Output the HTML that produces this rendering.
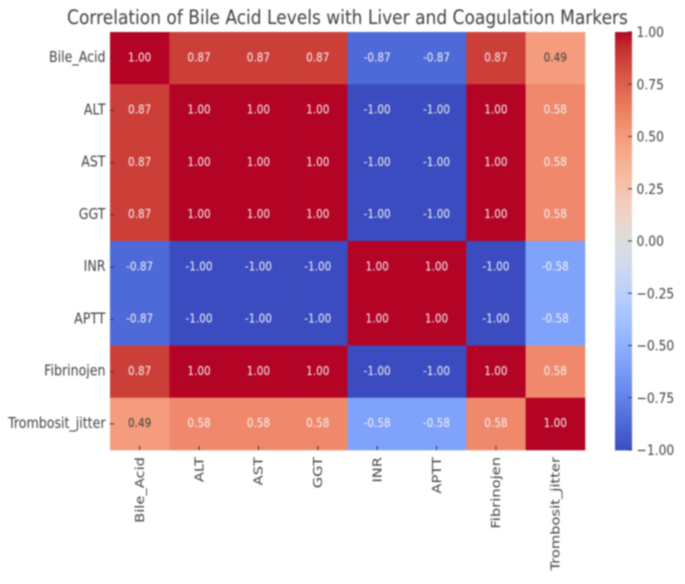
<!DOCTYPE html>
<html lang="en">
<head>
<meta charset="utf-8">
<title>Correlation of Bile Acid Levels with Liver and Coagulation Markers</title>
<style>
html,body{margin:0;padding:0;background:#fff;}
body{width:685px;height:584px;overflow:hidden;}
svg{display:block;filter:blur(0.7px);font-family:"DejaVu Sans","Liberation Sans",sans-serif;}
</style>
</head>
<body>
<svg id="chart" xmlns="http://www.w3.org/2000/svg" width="685" height="584" viewBox="0 0 685 584">
  <rect x="-5" y="-5" width="695" height="594" fill="#ffffff"/>
  <text transform="translate(347.5,24) scale(0.857,1)" text-anchor="middle" font-size="19.9" fill="#404040">Correlation of Bile Acid Levels with Liver and Coagulation Markers</text>
  <g id="cells"></g>
  <g id="annotations"></g>
  <g id="y-axis"></g>
  <g id="x-axis"></g>
  <g id="colorbar"></g>
</svg>
<script>
const variables = ["Bile_Acid", "ALT", "AST", "GGT", "INR", "APTT", "Fibrinojen", "Trombosit_jitter"];
const bileAcidRow = [1.00, 0.87, 0.87, 0.87, -0.87, -0.87, 0.87, 0.49];
const altRow = [0.87, 1.00, 1.00, 1.00, -1.00, -1.00, 1.00, 0.58];
const astRow = [0.87, 1.00, 1.00, 1.00, -1.00, -1.00, 1.00, 0.58];
const ggtRow = [0.87, 1.00, 1.00, 1.00, -1.00, -1.00, 1.00, 0.58];
const inrRow = [-0.87, -1.00, -1.00, -1.00, 1.00, 1.00, -1.00, -0.58];
const apttRow = [-0.87, -1.00, -1.00, -1.00, 1.00, 1.00, -1.00, -0.58];
const fibrinojenRow = [0.87, 1.00, 1.00, 1.00, -1.00, -1.00, 1.00, 0.58];
const trombositRow = [0.49, 0.58, 0.58, 0.58, -0.58, -0.58, 0.58, 1.00];
const matrix = [bileAcidRow, altRow, astRow, ggtRow, inrRow, apttRow, fibrinojenRow, trombositRow];
const colorbarTicks = [1.00, 0.75, 0.50, 0.25, 0.00, -0.25, -0.50, -0.75, -1.00];
const coolwarm = [
  [59,76,192],[68,90,204],[77,104,215],[87,117,225],[98,130,234],[108,142,241],[119,154,247],[130,165,251],
  [141,176,254],[152,185,255],[163,194,255],[174,201,253],[184,208,249],[194,213,244],[204,217,238],[213,219,230],
  [221,221,221],[229,216,209],[236,211,197],[241,204,185],[245,196,173],[247,187,160],[247,177,148],[247,166,135],
  [244,154,123],[241,141,111],[236,127,99],[229,112,88],[222,96,77],[213,80,66],[203,62,56],[192,40,47],[180,4,38]
];

const NS = "http://www.w3.org/2000/svg";
const plot = {left: 110, right: 585, top: 32, bottom: 450};
const bar = {left: 615, right: 632, top: 32, bottom: 450};
const xScaleText = 0.857;

const xBand = i => plot.left + i * (plot.right - plot.left) / variables.length;
const yBand = i => plot.top + i * (plot.bottom - plot.top) / variables.length;
const barY = v => bar.top + (1 - v) / 2 * (bar.bottom - bar.top);

function rgbFor(v) {
  const t = Math.max(0, Math.min(1, (v + 1) / 2)) * (coolwarm.length - 1);
  const i = Math.min(coolwarm.length - 2, Math.floor(t));
  const f = t - i;
  return coolwarm[i].map((c, k) => Math.round(c + (coolwarm[i + 1][k] - c) * f));
}
function colorFor(v) {
  return "rgb(" + rgbFor(v).join(",") + ")";
}
function annotationColor(v) {
  const lin = rgbFor(v).map(c => {
    const s = c / 255;
    return s <= 0.03928 ? s / 12.92 : Math.pow((s + 0.055) / 1.055, 2.4);
  });
  const lum = 0.2126 * lin[0] + 0.7152 * lin[1] + 0.0722 * lin[2];
  return lum > 0.408 ? "#3a3a3a" : "#f4f4f4";
}
function make(tag, attrs, parent, text) {
  const el = document.createElementNS(NS, tag);
  for (const key in attrs) el.setAttribute(key, attrs[key]);
  if (text !== undefined) el.textContent = text;
  parent.appendChild(el);
  return el;
}

const cellsG = document.getElementById("cells");
const annG = document.getElementById("annotations");
const yG = document.getElementById("y-axis");
const xG = document.getElementById("x-axis");
const barG = document.getElementById("colorbar");
const cellW = xBand(1) - xBand(0);
const cellH = yBand(1) - yBand(0);

matrix.forEach((row, r) => {
  row.forEach((v, c) => {
    const cell = make("rect", {x: xBand(c), y: yBand(r), width: cellW + 0.3, height: cellH + 0.3, fill: colorFor(v)}, cellsG);
    
    
    const label = make("text", {
      transform: "translate(" + (xBand(c) + cellW / 2) + "," + (yBand(r) + cellH / 2 + 3.3) + ") scale(" + xScaleText + ",1)",
      "text-anchor": "middle", "font-size": 12.2, fill: annotationColor(v)
    }, annG, v.toFixed(2));
    
    
  });
});

variables.forEach((name, i) => {
  const cy = yBand(i) + cellH / 2;
  const yTick = make("line", {x1: plot.left, x2: plot.left + 4, y1: cy, y2: cy, stroke: "#333", "stroke-width": 1}, yG);
  
  
  const yLabel = make("text", {
    transform: "translate(105.5," + (cy + 4) + ") scale(" + xScaleText + ",1)",
    "text-anchor": "end", "font-size": 14.7, fill: "#404040"
  }, yG, name);
  
  

  const cx = xBand(i) + cellW / 2;
  const xTick = make("line", {x1: cx, x2: cx, y1: plot.bottom - 4, y2: plot.bottom, stroke: "#333", "stroke-width": 1}, xG);
  
  
  const xLabel = make("text", {
    transform: "translate(" + (cx + 4.3) + ",457) scale(" + xScaleText + ",1) rotate(-90)",
    "text-anchor": "end", "font-size": 14.7, fill: "#404040"
  }, xG, name);
  
  
});

const barSteps = 209;
for (let s = 0; s < barSteps; s++) {
  const v0 = 1 - 2 * s / barSteps;
  const v1 = 1 - 2 * (s + 1) / barSteps;
  const band = make("rect", {x: bar.left, y: barY(v0), width: bar.right - bar.left, height: barY(v1) - barY(v0) + 0.4, fill: colorFor((v0 + v1) / 2)}, barG);
  
  
}
colorbarTicks.forEach(v => {
  const y = barY(v);
  const tick = make("line", {x1: bar.right - 4, x2: bar.right, y1: y, y2: y, stroke: "#333", "stroke-width": 1}, barG);
  
  
  const label = make("text", {
    transform: "translate(636.5," + (y + 5.2) + ") scale(" + xScaleText + ",1)",
    "font-size": 14.4, fill: "#404040"
  }, barG, (v < 0 ? "\u2212" : "") + Math.abs(v).toFixed(2));
  
  
});
</script>
</body>
</html>
